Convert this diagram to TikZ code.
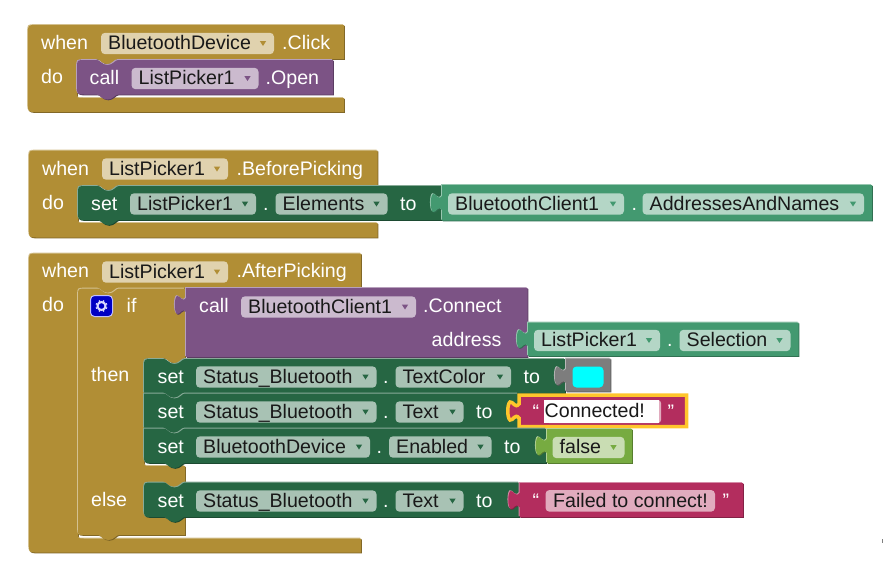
\documentclass[tikz,border=0pt]{standalone}
\usepackage{fontspec}
\setmainfont{Liberation Sans}
\definecolor{ctrlgold}{HTML}{B18E35}
\definecolor{callpurple}{HTML}{7C5385}
\definecolor{setgreen}{HTML}{266643}
\definecolor{getgreen}{HTML}{439970}
\definecolor{textred}{HTML}{B32D5E}
\definecolor{logicgreen}{HTML}{77AB41}
\definecolor{colorgrey}{HTML}{7D7D7D}
\definecolor{selectyellow}{HTML}{FFC52C}
\definecolor{swatchcyan}{HTML}{00FFFF}
\tikzset{
    blocktext/.style={anchor=west, inner sep=0pt, text height=14pt, text depth=0pt, text=white, font=\fontsize{19.6}{22}\selectfont},
    fieldtext/.style={blocktext, text=black!90}
}
\newcommand{\notchR}[2]{-- (#1+20,#2) .. controls (#1+23,#2) and (#1+25,#2+5) .. (#1+30.5,#2+5) .. controls (#1+36,#2+5) and (#1+38,#2) .. (#1+41,#2)}
\newcommand{\notchL}[2]{-- (#1+41,#2) .. controls (#1+38,#2) and (#1+36,#2+5) .. (#1+30.5,#2+5) .. controls (#1+25,#2+5) and (#1+23,#2) .. (#1+20,#2)}
\newcommand{\tabU}[2]{-- (#1,#2+7) .. controls (#1-4,#2+2) and (#1-6,#2+10) .. (#1-9,#2+9) .. controls (#1-12,#2+7) and (#1-12,#2-7) .. (#1-9,#2-9) .. controls (#1-6,#2-10) and (#1-4,#2-2) .. (#1,#2-7)}
\newcommand{\blockshape}[2]{
    \fill[#1!70!black, shift={(0.8,0.8)}] #2;
    \fill[#1!55!white, shift={(-0.8,-0.8)}] #2;
    \fill[#1] #2;
}
\newcommand{\whenpath}[7]{(#1,#2+8) .. controls (#1,#2) .. (#1+8,#2) -- (#3,#2) -- (#3,#4) \notchL{#7}{#4} -- (#7+8,#4) .. controls (#7,#4) .. (#7,#4+8) -- (#7,#5-6) .. controls (#7,#5) .. (#7+6,#5) -- (#3,#5) -- (#3,#6) -- (#1+8,#6) .. controls (#1,#6) .. (#1,#6-8) -- cycle}
\newcommand{\stmtpath}[6]{(#1,#2+#5) .. controls (#1,#2) .. (#1+#5,#2) \notchR{#1}{#2} -- (#3,#2) -- (#3,#4) \notchL{#1}{#4} -- (#1+#6,#4) .. controls (#1,#4) .. (#1,#4-#6) -- cycle}
\newcommand{\valpath}[5]{(#1,#2) -- (#3,#2) -- (#3,#4) -- (#1,#4) \tabU{#1}{#5} -- cycle}
\newcommand{\dropfield}[6]{
    \fill[rounded corners=4pt, #5!40!white] (#2,#4-10.7) rectangle (#3,#4+10.7);
    \node[fieldtext] (#1) at (#2+7,#4-1) {#6};
    \fill[#5] (#3-14.2,#4-2.5) -- (#3-7.8,#4-2.5) -- (#3-11,#4+2.5) -- cycle;
}
\begin{document}
\begin{tikzpicture}[x=1pt, y=-1pt]
    \useasboundingbox (0,0) rectangle (883,574);
    \blockshape{ctrlgold}{\whenpath{28}{25}{344}{59}{98}{112}{77}}
    \blockshape{callpurple}{\stmtpath{77}{60}{333}{94.5}{8}{8}}
    \node[blocktext] (whenA) at (41,42) {when};
    \dropfield{deviceA}{101}{274}{43.5}{ctrlgold}{BluetoothDevice}
    \node[blocktext] (clickA) at (282,42) {.Click};
    \node[blocktext] (doA) at (41,76.5) {do};
    \node[blocktext] (callA) at (89.5,77) {call};
    \dropfield{pickerA}{131.5}{258.5}{78.5}{callpurple}{ListPicker1}
    \node[blocktext] (openA) at (265.5,77) {.Open};

    \blockshape{ctrlgold}{\whenpath{29}{150.5}{377.5}{185}{223}{237.5}{78}}
    \blockshape{setgreen}{\stmtpath{78}{186}{442}{220}{8}{8}}
    \blockshape{getgreen}{\valpath{442}{185}{872}{220.5}{203}}
    \node[blocktext] (whenB) at (42,168.5) {when};
    \dropfield{pickerB}{102}{228}{169}{ctrlgold}{ListPicker1}
    \node[blocktext] (beforeB) at (236.5,168.5) {.BeforePicking};
    \node[blocktext] (doB) at (42,202) {do};
    \node[blocktext] (setB) at (91,203) {set};
    \dropfield{pickerC}{130}{256}{204}{setgreen}{ListPicker1}
    \node[blocktext] (dotB) at (263,203) {.};
    \dropfield{elementsB}{275.5}{387.5}{204}{setgreen}{Elements}
    \node[blocktext] (toB) at (400,203) {to};
    \dropfield{clientB}{448}{624}{204}{getgreen}{BluetoothClient1}
    \node[blocktext] (dotC) at (631.5,203) {.};
    \dropfield{namesB}{642.5}{864}{204}{getgreen}{AddressesAndNames}

    \blockshape{ctrlgold}{\whenpath{29}{253.5}{361}{288}{538.5}{552.5}{78}}
    \blockshape{ctrlgold}{(78,296) .. controls (78,288.5) .. (86,288.5) \notchR{78}{288.5} -- (185,288.5) -- (185,358) \notchL{144}{358} -- (152,358) .. controls (144,358) .. (144,366) -- (144,459) .. controls (144,466) .. (150,466) -- (185,466) -- (185,482) \notchL{144}{482} -- (152,482) .. controls (144,482) .. (144,490) -- (144,511) .. controls (144,517) .. (150,517) -- (185,517) -- (185,535) \notchL{78}{535} -- (84,535) .. controls (78,535) .. (78,529) -- cycle}
    \blockshape{callpurple}{\valpath{186}{288}{527.5}{357}{305}}
    \blockshape{getgreen}{\valpath{528}{322.5}{798.5}{356}{339}}
    \blockshape{setgreen}{\stmtpath{144}{359}{565}{393}{8}{0}}
    \blockshape{colorgrey}{\valpath{566}{358.5}{610.5}{391.5}{376}}
    \blockshape{setgreen}{\stmtpath{144}{393.5}{518}{428}{0}{0}}
    \blockshape{textred}{\valpath{519}{395}{686.5}{426.5}{411}}
    \draw[selectyellow, line width=3.5pt] \valpath{519}{395}{686.5}{426.5}{411};
    \blockshape{setgreen}{\stmtpath{144}{428.5}{546}{463}{0}{8}}
    \blockshape{logicgreen}{\valpath{547}{429}{632}{463}{446}}
    \blockshape{setgreen}{\stmtpath{144}{482.5}{519}{517}{8}{8}}
    \blockshape{textred}{\valpath{519.5}{483}{743}{517}{500}}

    \node[blocktext] (whenC) at (42,270.5) {when};
    \dropfield{pickerD}{102}{228}{272}{ctrlgold}{ListPicker1}
    \node[blocktext] (afterC) at (236.5,270.5) {.AfterPicking};
    \node[blocktext] (doC) at (42,304) {do};
    \filldraw[fill=blue!77!black, draw=blue!25!white, line width=1pt, rounded corners=4pt] (90.5,295.5) rectangle (112.5,316.5);
    \draw[blue!15!white, line width=2pt] (101.5,306) circle (4);
    \foreach \a in {22.5,67.5,...,337.5}
        \draw[blue!15!white, line width=1.5pt, shift={(101.5,306)}] (\a:4.5) -- (\a:6);
    \node[blocktext] (ifC) at (126.5,305) {if};
    \node[blocktext] (callC) at (199,305) {call};
    \dropfield{clientC}{241}{416}{307}{callpurple}{BluetoothClient1}
    \node[blocktext] (connectC) at (423,305) {.Connect};
    \node[blocktext] (addressC) at (431.5,339) {address};
    \dropfield{pickerE}{534}{660}{340.5}{getgreen}{ListPicker1}
    \node[blocktext] (dotD) at (667,339.5) {.};
    \dropfield{selectionC}{679.5}{790.5}{340.5}{getgreen}{Selection}

    \node[blocktext] (thenC) at (91,374) {then};
    \node[blocktext] (setD) at (157.5,376) {set};
    \dropfield{statusA}{196}{376.5}{377}{setgreen}{Status\_Bluetooth}
    \node[blocktext] (dotE) at (383,376) {.};
    \dropfield{colorD}{395.5}{511}{377}{setgreen}{TextColor}
    \node[blocktext] (toD) at (523.5,376) {to};
    \fill[swatchcyan, rounded corners=4pt] (572.5,366.5) rectangle (603.5,387.5);

    \node[blocktext] (setE) at (157.5,411) {set};
    \dropfield{statusB}{196}{376.5}{412}{setgreen}{Status\_Bluetooth}
    \node[blocktext] (dotF) at (383,411) {.};
    \dropfield{textE}{395.5}{463.5}{412}{setgreen}{Text}
    \node[blocktext] (toE) at (476,411) {to};
    \node[blocktext] (openE) at (532.5,411) {“};
    \fill[rounded corners=3pt, textred!40!white] (546,400) rectangle (661,423);
    \fill[white] (544,399.5) rectangle (658.5,422.5);
    \node[fieldtext] (connectedE) at (544.5,410.5) {Connected!};
    \node[blocktext] (closeE) at (667.5,411) {”};

    \node[blocktext] (setF) at (157.5,446) {set};
    \dropfield{deviceF}{196}{370}{447}{setgreen}{BluetoothDevice}
    \node[blocktext] (dotG) at (376.5,446) {.};
    \dropfield{enabledF}{389}{491.5}{447}{setgreen}{Enabled}
    \node[blocktext] (toF) at (504,446) {to};
    \dropfield{falseF}{552.5}{624.5}{447.5}{logicgreen}{false}

    \node[blocktext] (elseC) at (91,499.5) {else};
    \node[blocktext] (setG) at (157.5,500) {set};
    \dropfield{statusG}{196}{376.5}{501}{setgreen}{Status\_Bluetooth}
    \node[blocktext] (dotH) at (383,500) {.};
    \dropfield{textG}{395.5}{463.5}{501}{setgreen}{Text}
    \node[blocktext] (toG) at (476,500) {to};
    \node[blocktext] (openG) at (532.5,500) {“};
    \fill[rounded corners=4pt, textred!40!white] (545.5,490) rectangle (715,511.7);
    \node[fieldtext] (failedG) at (553,500) {Failed to connect!};
    \node[blocktext] (closeG) at (722.5,500) {”};

    \fill[gray] (881.5,538.5) rectangle (883,542.5);
\end{tikzpicture}
\end{document}
